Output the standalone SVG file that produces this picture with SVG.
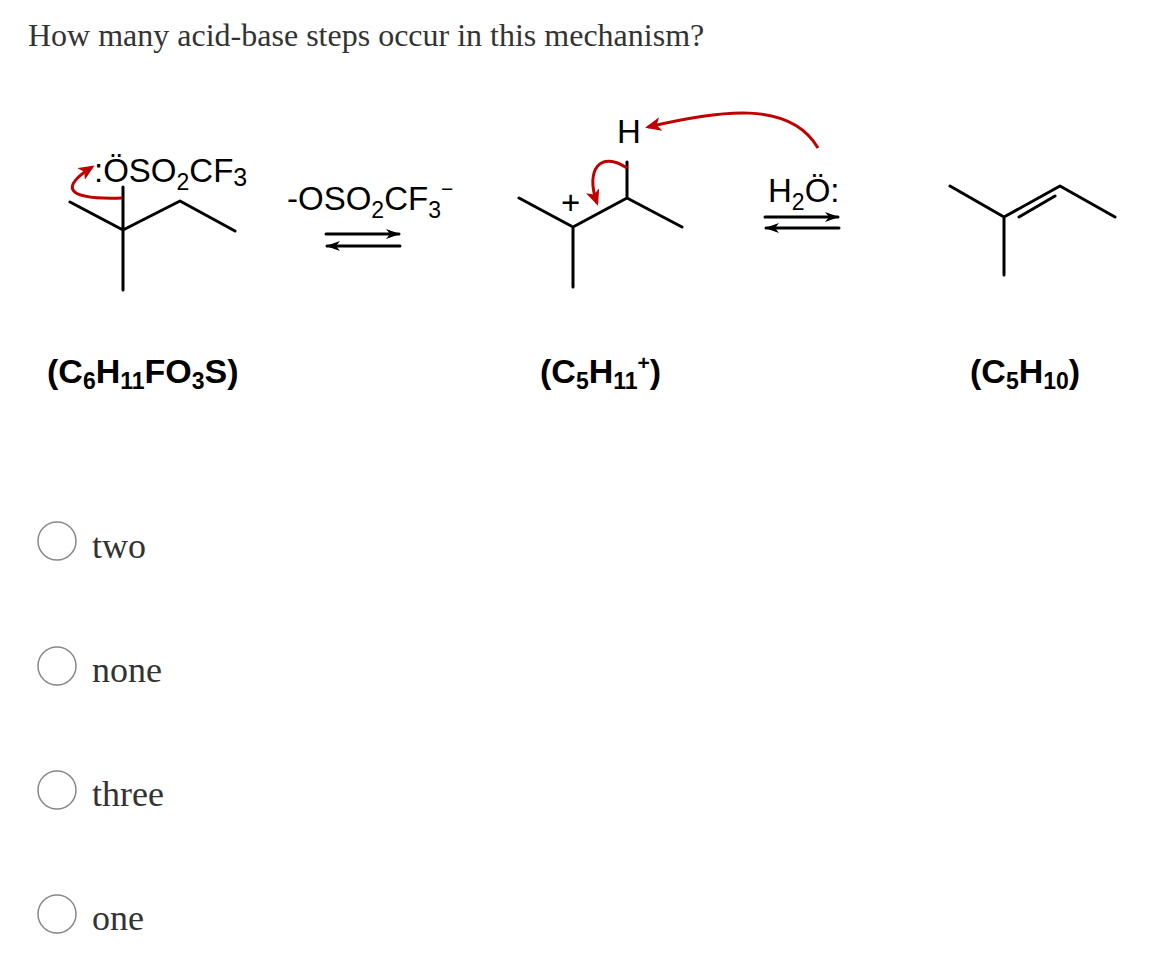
<svg xmlns="http://www.w3.org/2000/svg" width="1162" height="963" viewBox="0 0 1162 963">
<defs>
<style>
.b{stroke:#000;stroke-width:3;fill:none;stroke-linecap:round;stroke-linejoin:round}
.r{stroke:#c00000;stroke-width:3;fill:none}
.t{font-family:"Liberation Sans",Arial,sans-serif;font-size:33px;fill:#000}
.f{font-family:"Liberation Sans",Arial,sans-serif;font-size:34px;font-weight:bold;fill:#000}
.q{font-family:"Liberation Serif","Times New Roman",serif;font-size:32px;fill:#333}
.o{font-family:"Liberation Serif","Times New Roman",serif;font-size:36px;fill:#333}
.c{fill:#fff;stroke:#888;stroke-width:1.5}
</style>
<marker id="ah" markerWidth="16" markerHeight="14" refX="13" refY="7" orient="auto" markerUnits="userSpaceOnUse"><path d="M0,0 L16,7 L0,14 L4,7 Z" fill="#c00000"/></marker>
<marker id="bh" markerWidth="14" markerHeight="10" refX="13" refY="5" orient="auto" markerUnits="userSpaceOnUse"><path d="M0,0 L14,5 L0,10 L4,5 Z" fill="#000"/></marker>
</defs>
<text class="q" x="28" y="46">How many acid-base steps occur in this mechanism?</text>

<g id="reactant">
<path class="b" d="M70,202 L123,230 L180,201 L235,231 M123,187 L123,290"/>
<text class="t" x="94" y="182">:ÖSO<tspan font-size="23" dy="8">2</tspan><tspan dy="-8">CF</tspan><tspan font-size="25" dy="4">3</tspan></text>
<path class="r" d="M122,198 C62,200 62,186 92,167" marker-end="url(#ah)"/>
<text class="f" x="47" y="383">(C<tspan font-size="23" dy="6">6</tspan><tspan dy="-6">H</tspan><tspan font-size="23" dy="6">11</tspan><tspan dy="-6">FO</tspan><tspan font-size="23" dy="6">3</tspan><tspan dy="-6">S)</tspan></text>
</g>

<g id="step1">
<text class="t" x="287" y="210">-OSO<tspan font-size="23" dy="8">2</tspan><tspan dy="-8">CF</tspan><tspan font-size="23" dy="8">3</tspan><tspan font-size="21" dy="-22">−</tspan></text>
</g>

<g id="carbocation">
<path class="b" d="M519,198 L573,227 L627,198 L682,227 M573,227 L573,287 M627,198 L627,162"/>
<text class="t" x="617" y="143">H</text>
<text class="t" x="561" y="214" font-size="24">+</text>
<path class="r" d="M627,168 C600,150 585,170 597,203" marker-end="url(#ah)"/>
<text class="f" x="540" y="383">(C<tspan font-size="23" dy="6">5</tspan><tspan dy="-6">H</tspan><tspan font-size="23" dy="6">11</tspan><tspan font-size="21" dy="-19">+</tspan><tspan dy="13">)</tspan></text>
</g>

<g id="step2">
<text class="t" x="768" y="202">H<tspan font-size="23" dy="8">2</tspan><tspan dy="-8">Ö:</tspan></text>
</g>

<g id="product">
<path class="b" d="M950,186 L1004,217 L1060,186 L1115,217 M1004,217 L1004,275 M1019,217 L1055,196"/>
<text class="f" x="970" y="383">(C<tspan font-size="23" dy="6">5</tspan><tspan dy="-6">H</tspan><tspan font-size="23" dy="6">10</tspan><tspan dy="-6">)</tspan></text>
</g>

<g id="connectors">
<path class="b" d="M326,234 L399,234" marker-end="url(#bh)" stroke-width="2.5"/>
<path class="b" d="M400,246 L327,246" marker-end="url(#bh)" stroke-width="2.5"/>
<path class="b" d="M765,217 L838,217" marker-end="url(#bh)" stroke-width="2.5"/>
<path class="b" d="M839,228 L766,228" marker-end="url(#bh)" stroke-width="2.5"/>
<path class="r" d="M818,148 C790,100 720,110 648,127" marker-end="url(#ah)"/>
</g>

<g id="options">
<circle class="c" cx="57" cy="541" r="19"/><text class="o" x="92" y="558">two</text>
<circle class="c" cx="57" cy="666" r="19"/><text class="o" x="92" y="682">none</text>
<circle class="c" cx="57" cy="790" r="19"/><text class="o" x="92" y="806">three</text>
<circle class="c" cx="57" cy="914" r="19"/><text class="o" x="92" y="930">one</text>
</g>
</svg>
